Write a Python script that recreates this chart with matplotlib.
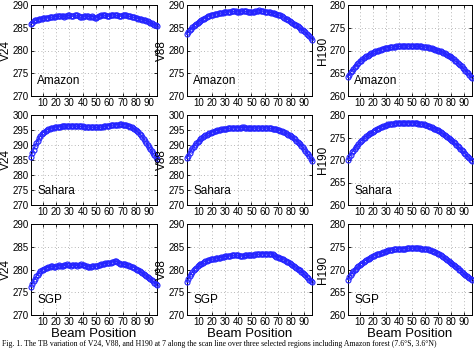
import numpy as np
import matplotlib.pyplot as plt

plt.rcParams['font.family'] = ['Liberation Sans', 'DejaVu Sans']

beam = np.arange(1, 97)

amazon_v24 = [
    285.8, 286.1, 286.4, 286.6, 286.7, 286.8, 286.9, 287.0, 287.0, 287.1, 287.1, 287.2,
    287.2, 287.2, 287.3, 287.3, 287.4, 287.4, 287.4, 287.5, 287.5, 287.5, 287.6, 287.6,
    287.5, 287.4, 287.5, 287.6, 287.7, 287.7, 287.6, 287.5, 287.6, 287.7, 287.8, 287.7,
    287.5, 287.3, 287.3, 287.4, 287.5, 287.6, 287.6, 287.5, 287.4, 287.4, 287.5, 287.4,
    287.2, 287.1, 287.3, 287.5, 287.6, 287.7, 287.8, 287.8, 287.7, 287.6, 287.5, 287.6,
    287.7, 287.8, 287.9, 287.9, 287.8, 287.7, 287.6, 287.5, 287.6, 287.7, 287.8, 287.8,
    287.7, 287.6, 287.5, 287.5, 287.4, 287.3, 287.3, 287.2, 287.1, 287.0, 287.0, 286.9,
    286.8, 286.7, 286.6, 286.5, 286.4, 286.3, 286.1, 286.0, 285.8, 285.7, 285.5, 285.3]
amazon_v88 = [
    283.6, 284.0, 284.4, 284.8, 285.1, 285.4, 285.6, 285.9, 286.1, 286.3, 286.5, 286.7,
    286.9, 287.0, 287.2, 287.3, 287.5, 287.6, 287.7, 287.8, 287.9, 288.0, 288.1, 288.1,
    288.2, 288.2, 288.3, 288.3, 288.4, 288.4, 288.5, 288.5, 288.5, 288.5, 288.6, 288.6,
    288.6, 288.6, 288.5, 288.5, 288.5, 288.6, 288.7, 288.7, 288.6, 288.6, 288.5, 288.5,
    288.4, 288.4, 288.4, 288.5, 288.6, 288.7, 288.7, 288.8, 288.7, 288.7, 288.6, 288.5,
    288.5, 288.5, 288.4, 288.4, 288.3, 288.3, 288.2, 288.1, 288.0, 287.9, 287.8, 287.7,
    287.5, 287.4, 287.2, 287.0, 286.9, 286.7, 286.5, 286.3, 286.1, 285.9, 285.7, 285.5,
    285.3, 285.1, 284.9, 284.6, 284.4, 284.2, 284.0, 283.7, 283.4, 283.1, 282.8, 282.4]
amazon_h190 = [
    264.2, 264.7, 265.2, 265.6, 266.0, 266.4, 266.7, 267.0, 267.3, 267.6, 267.8, 268.1,
    268.3, 268.5, 268.7, 268.9, 269.1, 269.2, 269.4, 269.5, 269.7, 269.8, 269.9, 270.0,
    270.1, 270.2, 270.3, 270.4, 270.5, 270.5, 270.6, 270.6, 270.7, 270.7, 270.8, 270.8,
    270.8, 270.9, 270.9, 270.9, 270.9, 271.0, 271.0, 271.0, 271.0, 271.0, 271.0, 271.0,
    271.0, 271.0, 271.0, 271.0, 271.0, 270.9, 270.9, 270.9, 270.9, 270.8, 270.8, 270.8,
    270.7, 270.7, 270.6, 270.5, 270.5, 270.4, 270.3, 270.2, 270.1, 270.0, 269.9, 269.8,
    269.7, 269.5, 269.4, 269.2, 269.0, 268.9, 268.7, 268.5, 268.3, 268.1, 267.8, 267.6,
    267.3, 267.0, 266.8, 266.5, 266.2, 265.9, 265.6, 265.3, 265.0, 264.6, 264.2, 263.9]

sahara_v24 = [
    286.0, 287.3, 288.5, 289.6, 290.6, 291.5, 292.3, 293.0, 293.6, 294.1, 294.5, 294.8,
    295.1, 295.3, 295.5, 295.6, 295.7, 295.8, 295.9, 296.0, 296.0, 296.1, 296.1, 296.2,
    296.2, 296.3, 296.3, 296.4, 296.4, 296.4, 296.4, 296.4, 296.4, 296.4, 296.3, 296.3,
    296.3, 296.2, 296.2, 296.2, 296.1, 296.1, 296.1, 296.0, 296.0, 296.0, 296.0, 295.9,
    295.9, 295.9, 295.9, 295.9, 296.0, 296.0, 296.1, 296.2, 296.3, 296.4, 296.5, 296.5,
    296.6, 296.6, 296.7, 296.7, 296.8, 296.8, 296.8, 296.9, 296.9, 296.8, 296.8, 296.7,
    296.6, 296.5, 296.3, 296.1, 295.9, 295.6, 295.3, 295.0, 294.6, 294.2, 293.7, 293.2,
    292.6, 292.0, 291.4, 290.7, 290.0, 289.3, 288.6, 287.9, 287.2, 286.6, 286.0, 285.4]
sahara_v88 = [
    285.6, 286.5, 287.4, 288.2, 288.9, 289.5, 290.1, 290.6, 291.1, 291.5, 291.9, 292.3,
    292.6, 292.9, 293.2, 293.5, 293.7, 293.9, 294.1, 294.3, 294.5, 294.6, 294.8, 294.9,
    295.0, 295.1, 295.2, 295.3, 295.4, 295.5, 295.5, 295.6, 295.6, 295.7, 295.7, 295.8,
    295.8, 295.8, 295.8, 295.8, 295.8, 295.8, 295.9, 295.9, 295.8, 295.8, 295.8, 295.8,
    295.7, 295.7, 295.7, 295.7, 295.7, 295.7, 295.7, 295.7, 295.7, 295.7, 295.7, 295.7,
    295.7, 295.7, 295.7, 295.6, 295.6, 295.5, 295.4, 295.3, 295.2, 295.1, 294.9, 294.8,
    294.6, 294.4, 294.2, 294.0, 293.7, 293.5, 293.2, 292.9, 292.6, 292.3, 291.9, 291.5,
    291.1, 290.7, 290.2, 289.7, 289.2, 288.7, 288.1, 287.5, 286.9, 286.2, 285.4, 284.6]
sahara_h190 = [
    270.0, 270.6, 271.2, 271.7, 272.1, 272.5, 272.9, 273.2, 273.6, 273.9, 274.2, 274.5,
    274.8, 275.0, 275.3, 275.5, 275.7, 275.9, 276.1, 276.3, 276.5, 276.7, 276.8, 277.0,
    277.1, 277.3, 277.4, 277.5, 277.6, 277.7, 277.8, 277.9, 278.0, 278.0, 278.1, 278.1,
    278.2, 278.2, 278.2, 278.3, 278.3, 278.3, 278.3, 278.3, 278.3, 278.3, 278.3, 278.3,
    278.3, 278.3, 278.3, 278.2, 278.2, 278.2, 278.1, 278.1, 278.0, 278.0, 277.9, 277.8,
    277.7, 277.6, 277.5, 277.4, 277.3, 277.2, 277.0, 276.9, 276.7, 276.6, 276.4, 276.2,
    276.0, 275.8, 275.6, 275.4, 275.2, 275.0, 274.7, 274.5, 274.2, 274.0, 273.7, 273.4,
    273.1, 272.8, 272.5, 272.2, 271.9, 271.6, 271.3, 271.0, 270.7, 270.4, 270.1, 269.8]

sgp_v24 = [
    276.2, 276.9, 277.5, 278.0, 278.5, 278.9, 279.3, 279.6, 279.8, 280.0, 280.2, 280.3,
    280.4, 280.5, 280.6, 280.7, 280.7, 280.6, 280.6, 280.7, 280.8, 280.9, 280.8, 280.7,
    280.8, 280.9, 281.0, 281.1, 281.0, 280.9, 280.8, 280.9, 281.0, 281.0, 280.9, 280.8,
    280.9, 281.0, 281.1, 281.0, 280.9, 280.8, 280.7, 280.6, 280.6, 280.6, 280.7, 280.7,
    280.7, 280.8, 280.8, 280.9, 281.0, 281.1, 281.2, 281.3, 281.4, 281.4, 281.4, 281.5,
    281.5, 281.6, 281.7, 281.8, 281.8, 281.7, 281.5, 281.3, 281.2, 281.2, 281.2, 281.1,
    281.0, 280.9, 280.8, 280.7, 280.6, 280.5, 280.4, 280.2, 280.0, 279.8, 279.6, 279.4,
    279.2, 279.0, 278.8, 278.6, 278.4, 278.2, 277.9, 277.7, 277.4, 277.1, 276.8, 276.5]
sgp_v88 = [
    277.2, 277.9, 278.5, 279.0, 279.4, 279.8, 280.1, 280.4, 280.7, 280.9, 281.1, 281.3,
    281.5, 281.7, 281.8, 281.9, 282.0, 282.1, 282.2, 282.3, 282.3, 282.4, 282.5, 282.5,
    282.5, 282.6, 282.7, 282.8, 282.8, 282.9, 282.9, 282.9, 283.0, 283.0, 283.1, 283.1,
    283.2, 283.2, 283.2, 283.1, 283.0, 283.0, 283.0, 283.0, 283.1, 283.1, 283.1, 283.1,
    283.1, 283.2, 283.2, 283.2, 283.3, 283.3, 283.3, 283.4, 283.4, 283.5, 283.5, 283.5,
    283.5, 283.5, 283.5, 283.5, 283.4, 283.3, 283.1, 282.9, 282.8, 282.7, 282.6, 282.5,
    282.3, 282.2, 282.0, 281.9, 281.7, 281.6, 281.4, 281.2, 281.0, 280.8, 280.6, 280.4,
    280.2, 280.0, 279.8, 279.5, 279.3, 279.0, 278.7, 278.4, 278.1, 277.8, 277.5, 277.2]
sgp_h190 = [
    267.8, 268.3, 268.8, 269.2, 269.6, 269.9, 270.2, 270.5, 270.8, 271.0, 271.3, 271.5,
    271.7, 271.9, 272.1, 272.3, 272.4, 272.6, 272.7, 272.9, 273.0, 273.1, 273.3, 273.4,
    273.5, 273.6, 273.7, 273.8, 273.9, 274.0, 274.1, 274.2, 274.2, 274.3, 274.3, 274.4,
    274.4, 274.5, 274.5, 274.5, 274.6, 274.6, 274.6, 274.6, 274.6, 274.7, 274.7, 274.7,
    274.7, 274.7, 274.7, 274.7, 274.7, 274.7, 274.7, 274.7, 274.6, 274.6, 274.6, 274.5,
    274.5, 274.4, 274.3, 274.2, 274.1, 274.0, 273.9, 273.8, 273.6, 273.5, 273.3, 273.1,
    272.9, 272.7, 272.5, 272.3, 272.1, 271.9, 271.7, 271.4, 271.2, 271.0, 270.7, 270.5,
    270.3, 270.0, 269.8, 269.5, 269.3, 269.0, 268.8, 268.6, 268.4, 268.2, 268.0, 267.8]

regions = ['Amazon', 'Sahara', 'SGP']
channels = ['V24', 'V88', 'H190']
series = [[amazon_v24, amazon_v88, amazon_h190],
          [sahara_v24, sahara_v88, sahara_h190],
          [sgp_v24, sgp_v88, sgp_h190]]
ylims = [[(270, 290), (270, 290), (260, 280)],
         [(270, 300), (270, 300), (260, 280)],
         [(270, 290), (270, 290), (260, 280)]]
xticks = [10, 20, 30, 40, 50, 60, 70, 80, 90]

W, H = 474, 348
cols = [(31, 157), (187, 312), (348, 472)]
rows = [(5, 96), (115, 205), (224, 315)]

fig = plt.figure(figsize=(W / 100, H / 100), dpi=100)

for i, region in enumerate(regions):
    for j, ch in enumerate(channels):
        x0, x1 = cols[j]
        yt, yb = rows[i]
        ax = fig.add_axes([x0 / W, 1 - yb / H, (x1 - x0) / W, (yb - yt) / H])
        ax.plot(beam, series[i][j], '-o', color='#2424ff', lw=0.8, ms=3.6,
                mfc='none', mew=0.8, clip_on=False, zorder=3)
        ax.set_xlim(1, 96)
        lo, hi = ylims[i][j]
        ax.set_ylim(lo, hi)
        ax.set_yticks(np.arange(lo, hi + 1, 5))
        ax.set_xticks(xticks)
        ax.tick_params(direction='in', length=2.5, width=0.6, labelsize=7,
                       pad=1.5, top=True, right=True)
        ax.grid(True, linestyle=(0, (1, 3)), color='#a0a0a0', lw=0.6)
        for s in ax.spines.values():
            s.set_linewidth(0.7)
        ax.set_ylabel(ch, fontsize=8.5, labelpad=0.5)
        ax.text(0.05, 0.16, region, transform=ax.transAxes, fontsize=8.5,
                va='center', ha='left')
        if i == 2:
            ax.set_xlabel('Beam Position', fontsize=9.5, labelpad=1)

# figure caption along the bottom edge
fig.text(0.004, 0.001,
         'Fig. 1. The TB variation of V24, V88, and H190 at 7 along the scan line over '
         'three selected regions including Amazon forest (7.6°S, 3.6°N)',
         fontsize=5.6, family=['Liberation Serif', 'DejaVu Serif'], va='bottom')

fig.savefig('out.png', dpi=100)
